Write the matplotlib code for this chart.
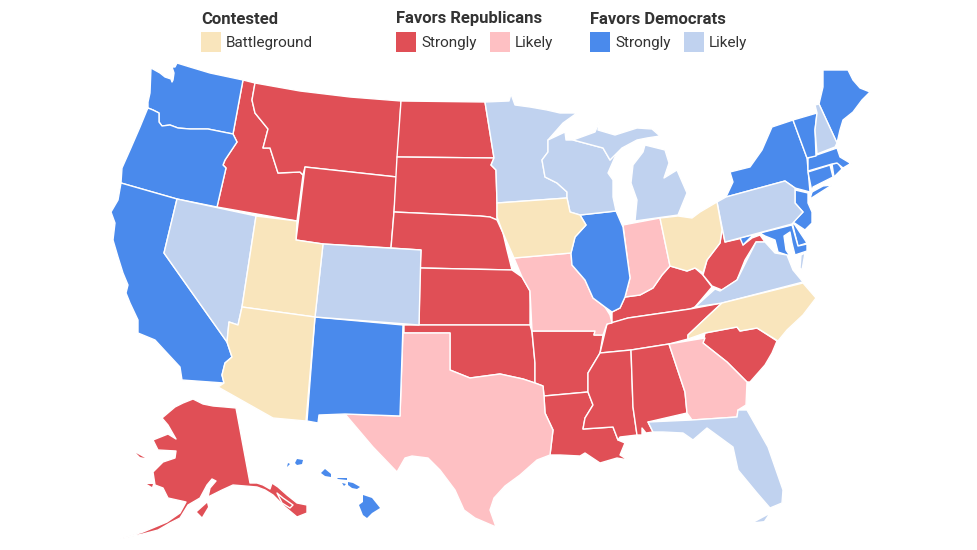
#!/usr/bin/env python

import matplotlib as mpl
mpl.use('Agg')
import matplotlib.pyplot as plt
from matplotlib.patches import Rectangle

# state outlines (x, y in image pixels)
WA = [(151,68),(160,73),(165,77),(171,79),(172,82),(173,80),(174,73),(172,67),(175,67),(177,63),(190,67),(210,73),(243,80),(233,134),(208,129),(190,129),(178,128),(170,125),(162,126),(159,122),(159,113),(153,110),(148,108),(148,102),(150,93)]
OR = [(148,108),(153,110),(159,113),(159,122),(162,126),(170,125),(178,128),(190,129),(208,129),(233,134),(237,142),(225,160),(223,165),(226,168),(217,207),(177,199),(121,183),(122,168),(130,150),(140,127),(147,110)]
CA = [(121,183),(177,199),(164,253),(227,342),(232,357),(225,363),(222,375),(224,383),(182,380),(180,367),(167,353),(155,340),(138,333),(138,320),(130,303),(126,293),(128,285),(123,273),(118,257),(113,240),(115,223),(111,212),(118,200)]
NV = [(177,199),(256,216),(242,307),(238,325),(229,322),(227,342),(164,253)]
ID = [(243,80),(255,83),(252,100),(255,113),(268,129),(263,148),(270,148),(278,173),(300,172),(303,175),(297,221),(217,207),(226,168),(223,165),(225,160),(237,142),(233,134)]
MT = [(255,83),(300,91),(350,97),(401,101),(397,177),(305,167),(303,175),(300,172),(278,173),(270,148),(263,148),(268,129),(255,113),(252,100)]
WY = [(305,167),(397,177),(391,248),(323,244),(296,240)]
UT = [(256,216),(297,221),(296,240),(323,244),(315,317),(242,307)]
AZ = [(242,307),(315,317),(306,421),(273,418),(218,387),(224,383),(222,375),(225,363),(232,357),(227,342),(229,322),(238,325)]
CO = [(323,244),(421,250),(419,325),(315,317)]
NM = [(315,317),(403,325),(400,416),(345,414),(319,415),(318,423),(307,421)]
ND = [(401,101),(485,102),(490,133),(494,158),(397,157)]
SD = [(397,157),(494,158),(491,165),(496,170),(497,203),(497,220),(490,217),(480,216),(394,212)]
NE = [(394,212),(480,216),(490,217),(497,220),(503,233),(507,250),(512,270),(420,268),(421,250),(391,248)]
KS = [(420,268),(512,270),(522,277),(530,291),(530,325),(419,325)]
OK = [(404,325),(530,325),(532,332),(535,363),(535,383),(523,379),(500,374),(470,378),(450,370),(450,333),(404,333)]
TX = [(404,333),(450,333),(450,370),(470,378),(500,374),(523,379),(535,383),(543,386),(544,396),(545,413),(553,430),(550,455),(537,460),(520,475),(505,486),(494,498),(490,510),(496,527),(475,518),(464,510),(455,490),(440,470),(428,458),(412,456),(405,458),(397,472),(373,447),(345,414),(400,416),(403,333)]
MN = [(485,102),(509,101),(511,94),(515,105),(530,107),(547,110),(560,113),(577,113),(563,123),(548,140),(548,152),(542,160),(545,177),(557,183),(567,192),(567,198),(497,203),(496,170),(491,165),(494,158),(490,133)]
IA = [(497,203),(567,198),(570,212),(580,215),(586,225),(575,237),(571,253),(514,258),(503,233),(497,217)]
MO = [(514,258),(571,253),(572,265),(585,280),(593,298),(605,307),(610,315),(612,323),(607,324),(603,335),(594,335),(595,331),(532,331),(530,291),(522,277)]
AR = [(532,331),(595,331),(594,335),(603,335),(600,353),(588,373),(588,392),(544,396),(543,386),(535,383),(535,363)]
LA = [(544,396),(588,392),(593,405),(585,418),(583,429),(613,427),(618,440),(625,443),(620,455),(628,460),(617,458),(600,463),(585,453),(580,456),(560,455),(550,455),(553,430),(545,413)]
WI = [(548,140),(565,132),(566,140),(573,140),(603,148),(610,160),(618,150),(608,173),(613,180),(613,197),(616,211),(580,215),(570,212),(567,198),(567,192),(557,183),(545,177),(542,160),(548,152)]
IL = [(580,215),(616,211),(623,227),(630,278),(625,297),(620,308),(612,312),(605,307),(593,298),(585,280),(572,265),(571,253),(575,237),(586,225)]
MI_UPPER = [(573,140),(595,132),(600,120),(598,130),(615,135),(637,128),(652,129),(660,136),(647,138),(637,140),(622,148),(610,160),(603,148)]
MI_LOWER = [(645,145),(665,150),(669,163),(664,178),(677,170),(687,193),(678,215),(635,221),(637,200),(631,183),(633,165),(643,152)]
IN = [(623,225),(660,218),(670,266),(662,275),(653,288),(640,295),(625,297),(630,278)]
OH = [(660,218),(678,216),(692,218),(700,212),(717,202),(722,230),(720,243),(707,260),(703,273),(695,268),(687,271),(670,266)]
KY = [(612,323),(612,312),(620,308),(625,297),(640,295),(653,288),(662,275),(670,266),(687,271),(695,268),(703,275),(712,287),(695,307),(690,309),(628,318)]
TN = [(722,303),(707,317),(688,335),(688,339),(669,344),(631,350),(600,353),(607,324),(628,318),(690,309)]
MS = [(600,353),(631,350),(633,407),(637,435),(620,437),(618,440),(613,427),(583,429),(585,418),(593,405),(588,392),(588,373)]
AL = [(631,350),(669,344),(685,392),(687,413),(648,422),(653,432),(646,433),(642,428),(642,435),(637,435),(633,407)]
GA = [(669,344),(705,338),(703,343),(727,362),(747,382),(746,405),(738,410),(737,417),(692,420),(687,413),(685,392)]
FL = [(648,422),(692,420),(737,417),(738,410),(747,410),(768,447),(783,490),(782,503),(770,508),(757,493),(738,470),(733,447),(707,428),(693,440),(683,433),(663,432),(653,432)]
FL_KEYS = [(755,522),(768,515),(764,521)]
SC = [(705,333),(737,327),(740,331),(757,328),(777,341),(772,353),(765,365),(750,382),(747,382),(727,362),(703,343)]
NC = [(722,303),(803,283),(816,298),(803,315),(787,330),(778,341),(757,328),(740,331),(737,327),(705,333),(688,339),(688,335),(707,317)]
VA = [(715,289),(720,291),(737,280),(747,260),(756,242),(765,242),(775,253),(787,255),(793,270),(803,282),(722,303),(695,307)]
VA_SHORE = [(805,253),(802,270),(800,268),(801,255)]
WV = [(722,228),(725,242),(743,238),(743,245),(752,238),(760,235),(765,242),(756,242),(745,260),(737,280),(722,290),(712,286),(703,275),(707,260),(720,243)]
PA = [(717,202),(726,197),(785,181),(795,188),(795,203),(803,212),(792,224),(725,242)]
NY = [(793,120),(807,158),(810,192),(795,188),(785,181),(726,197),(733,182),(730,172),(750,167),(762,150),(772,127)]
NY_LI = [(810,199),(832,185),(823,186),(812,192)]
NJ = [(795,190),(808,193),(808,203),(812,212),(812,223),(805,230),(793,222),(803,212),(795,203)]
DE = [(792,222),(795,225),(807,243),(798,246)]
MD = [(740,238),(792,225),(798,246),(807,244),(807,251),(795,255),(792,243),(790,232),(784,236),(786,250),(790,256),(778,252),(775,240),(765,236),(760,233),(752,236),(743,245)]
CT = [(808,172),(830,165),(833,177),(813,187),(812,192)]
RI = [(832,164),(838,163),(842,169),(834,177)]
MA = [(808,158),(837,148),(840,157),(850,163),(855,161),(843,168),(837,163),(832,164),(808,171)]
VT = [(793,120),(817,113),(815,130),(816,156),(807,158)]
NH = [(815,105),(819,104),(837,143),(835,147),(817,154),(815,130),(817,113)]
ME = [(819,104),(823,87),(823,70),(848,70),(853,80),(860,88),(870,92),(862,100),(853,112),(843,120),(840,130),(837,143)]
AK = [(236,408),(250,483),(257,483),(263,485),(270,489),(272,483),(278,487),(287,495),(297,503),(307,505),(307,513),(297,517),(285,507),(273,495),(265,490),(257,487),(233,485),(222,490),(208,497),(210,488),(216,481),(212,479),(207,485),(200,498),(188,505),(180,518),(170,523),(158,530),(143,534),(120,539),(143,532),(167,522),(180,513),(186,502),(168,498),(163,488),(155,485),(153,472),(163,462),(175,458),(176,451),(158,450),(153,440),(168,434),(176,439),(168,425),(162,418),(175,407),(183,403),(193,399),(203,404),(213,406),(225,407)]
AK_ISLANDS = [(277,493),(283,498),(293,505),(290,508),(282,503)]
AK_KODIAK = [(197,512),(207,503),(208,507),(202,517)]
AK_LAWRENCE = [(136,453),(145,458),(140,457)]
AK_NUNIVAK = [(147,484),(153,484),(152,487)]
HI_BIG = [(363,495),(372,498),(380,508),(372,513),(367,518),(363,515),(359,505),(363,502)]
HI_MAUI = [(348,482),(353,483),(360,487),(357,489),(352,488),(348,485)]
HI_MOLOKAI = [(337,478),(347,478),(347,480),(338,479)]
HI_LANAI = [(342,483),(346,484),(344,486)]
HI_OAHU = [(325,469),(331,474),(331,477),(325,476),(321,473)]
HI_KAUAI = [(297,459),(303,460),(302,464),(297,465),(295,463)]
HI_NIIHAU = [(288,463),(290,464),(287,467)]

# ratings
strong_r = [ID, MT, WY, ND, SD, NE, KS, OK, AR, LA, KY, TN, MS, AL, SC, WV, AK, AK_ISLANDS]
likely_r = [TX, MO, IN, GA]
strong_d = [WA, OR, CA, NM, IL, NY, NY_LI, NJ, DE, MD, CT, RI, MA, VT, ME]
likely_d = [NV, CO, MN, WI, MI_UPPER, MI_LOWER, PA, VA, VA_SHORE, NH, FL]
battleground = [UT, AZ, IA, OH, NC]

# small islands, no white border or they vanish
red_islands = [AK_KODIAK, AK_LAWRENCE, AK_NUNIVAK]
blue_islands = [HI_BIG, HI_MAUI, HI_MOLOKAI, HI_LANAI, HI_OAHU, HI_KAUAI, HI_NIIHAU]
light_islands = [FL_KEYS]

RED = '#E04F56'
PINK = '#FEC0C3'
BLUE = '#4A8AEC'
LIGHT = '#C0D2EF'
CREAM = '#F9E5BC'

plt.rcParams['font.family'] = ['Roboto', 'DejaVu Sans']

fig = plt.figure(figsize=(9.78, 5.5), dpi=100)
ax = fig.add_axes([0, 0, 1, 1])
ax.set_xlim(0, 978)
ax.set_ylim(550, 0)
ax.axis('off')

for states, color in [(strong_r, RED), (likely_r, PINK), (strong_d, BLUE), (likely_d, LIGHT), (battleground, CREAM)]:
    for shape in states:
        ax.fill([p[0] for p in shape], [p[1] for p in shape], facecolor=color, edgecolor='white', linewidth=1.0, joinstyle='round')

for shapes, color in [(red_islands, RED), (blue_islands, BLUE), (light_islands, LIGHT)]:
    for shape in shapes:
        ax.fill([p[0] for p in shape], [p[1] for p in shape], facecolor=color, edgecolor='none')

# legend
for x, title in [(201, 'Contested'), (396, 'Favors Republicans'), (590, 'Favors Democrats')]:
    ax.text(x, 19, title, fontsize=12, fontweight='bold', color='#333333', va='center', ha='left')
for x, label, color in [(201, 'Battleground', CREAM), (396, 'Strongly', RED), (490, 'Likely', PINK), (590, 'Strongly', BLUE), (684, 'Likely', LIGHT)]:
    ax.add_patch(Rectangle((x, 32), 20, 20, facecolor=color, edgecolor='none'))
    ax.text(x + 25, 43, label, fontsize=11, color='#333333', va='center', ha='left')

fig.savefig('out.png', dpi=100)
